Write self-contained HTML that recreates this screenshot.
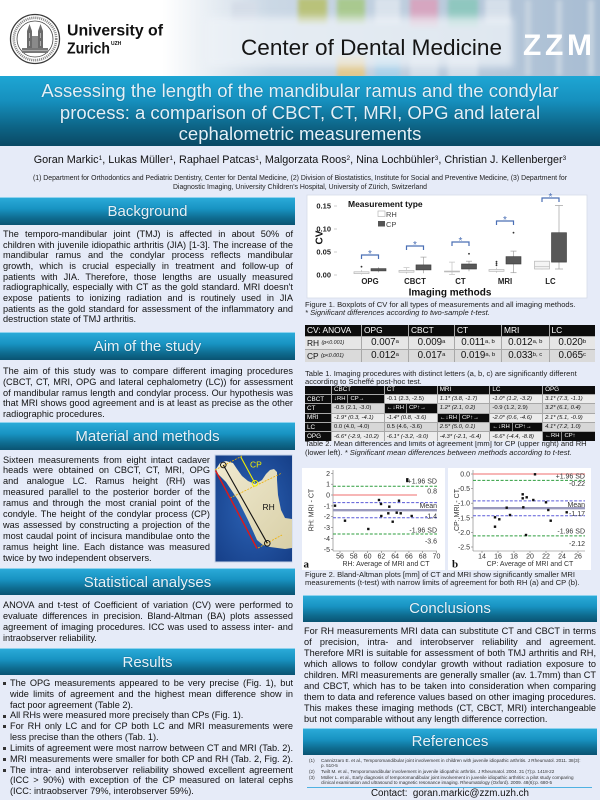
<!DOCTYPE html>
<html><head><meta charset="utf-8"><title>poster</title>
<style>
*{margin:0;padding:0;box-sizing:border-box}
html,body{width:600px;height:800px}
body{overflow:hidden;background:#e6ebf8;font-family:"Liberation Sans",Arial,sans-serif;color:#111;position:relative}
.a{position:absolute}
.hd{position:absolute;background:linear-gradient(#2aaad8,#1893c2 40%,#0e6b8f 75%,#0a5372);color:#e6f3fa;font-size:15px;text-align:center;border-top:1px solid #8fd2ee;text-shadow:0 0 1px rgba(0,40,60,.6)}
.tx{position:absolute;font-size:9.2px}
.tx div{text-align:justify;text-align-last:justify;word-spacing:-0.7px;white-space:normal}
.tx div.l{text-align:left;text-align-last:left;word-spacing:0}
.cap{position:absolute;font-size:7.6px;color:#222;white-space:nowrap;line-height:8.7px}
.g1{position:absolute;display:grid;gap:1px;background:#a8a8a8}
.g1 div{display:flex;align-items:center;white-space:nowrap;overflow:hidden;padding-left:2px}
.k{background:#0c0c0c;color:#fff}
.c1{background:#e6e6e6;justify-content:center;padding-left:0!important}
.c2{background:#dadada;justify-content:center;padding-left:0!important}
.r1{background:#ececec}
.r2{background:#d7d7d7}
.dg{background:#0c0c0c;color:#fff;padding-left:0!important}
.dg span{display:inline-block;height:100%;line-height:8.4px;padding:0 2px}
.dg span+span{border-left:1px solid #8a8a8a}
sup{font-size:60%;vertical-align:top;position:relative;top:-1px}
.bul{position:absolute;left:3px;width:3px;height:3px;background:#333}
</style></head>
<body>

<!-- HEADER IMAGE -->
<svg class="a" style="left:0;top:0" width="600" height="76" font-family="Liberation Sans, Arial, sans-serif">
<defs>
<linearGradient id="hg" x1="0" x2="1" y1="0" y2="0">
<stop offset="0" stop-color="#fff"/><stop offset="0.27" stop-color="#fff"/><stop offset="0.45" stop-color="#cbd8e5"/><stop offset="0.85" stop-color="#b3c5d8"/><stop offset="1" stop-color="#a7bcd2"/></linearGradient>
<filter id="bl" x="-20%" y="-20%" width="140%" height="140%"><feGaussianBlur stdDeviation="2.2"/></filter>
<filter id="bl2" x="-20%" y="-50%" width="140%" height="200%"><feGaussianBlur stdDeviation="4"/></filter>
</defs>
<rect width="600" height="76" fill="url(#hg)"/>
<g filter="url(#bl)">
<rect x="232" y="2" width="24" height="20" fill="#d5dde8"/>
<rect x="298" y="-2" width="29" height="26" fill="#b9c27a"/>
<rect x="337" y="-2" width="28" height="26" fill="#a9c98f"/>
<rect x="375" y="-2" width="25" height="26" fill="#d9e2ec"/>
<rect x="410" y="-2" width="28" height="29" fill="#d6a6c0"/>
<rect x="448" y="-2" width="30" height="29" fill="#8fc7bf"/>
<rect x="485" y="-2" width="25" height="26" fill="#d5dfea"/>
<rect x="337" y="56" width="28" height="22" fill="#e2c88c"/>
<rect x="375" y="56" width="25" height="22" fill="#a9d0e8"/>
<rect x="410" y="56" width="28" height="22" fill="#d3dde8"/>
<rect x="448" y="56" width="30" height="22" fill="#d3dde8"/>
<rect x="525" y="0" width="6" height="76" fill="#c6d3e0"/>
<rect x="556" y="0" width="6" height="76" fill="#c6d3e0"/>
<rect x="588" y="0" width="6" height="76" fill="#c6d3e0"/>
</g>
<rect x="205" y="17" width="308" height="50" fill="#eef3f8" opacity="0.75" filter="url(#bl2)"/>
<!-- logo -->
<circle cx="35" cy="39" r="24.5" fill="#fff" stroke="#3a3a3a" stroke-width="1.3"/>
<circle cx="35" cy="39" r="21.2" fill="none" stroke="#888" stroke-width="2.6" stroke-dasharray="1.1 0.9"/>
<circle cx="35" cy="39" r="18" fill="#fff" stroke="#444" stroke-width="0.8"/>
<path d="M27 50 V31 L29.5 24 L32 31 V50 Z" fill="#6b6b6b"/>
<path d="M38 50 V31 L40.5 24 L43 31 V50 Z" fill="#6b6b6b"/>
<rect x="32" y="36" width="6" height="14" fill="#8a8a8a"/>
<rect x="22" y="48" width="26" height="5" fill="#777"/>
<g stroke="#ddd" stroke-width="0.6"><line x1="29.5" y1="33" x2="29.5" y2="38"/><line x1="40.5" y1="33" x2="40.5" y2="38"/><line x1="29.5" y1="41" x2="29.5" y2="46"/><line x1="40.5" y1="41" x2="40.5" y2="46"/><line x1="22" y1="50.5" x2="48" y2="50.5"/></g>
<text x="67" y="35.5" font-size="16" font-weight="bold" fill="#111" textLength="96" lengthAdjust="spacingAndGlyphs">University of</text>
<text x="67" y="53.5" font-size="16" font-weight="bold" fill="#111" textLength="43" lengthAdjust="spacingAndGlyphs">Zurich</text>
<text x="111" y="45" font-size="5" font-weight="bold" fill="#111">UZH</text>
<text x="241" y="55" font-size="22" fill="#151515" textLength="261" lengthAdjust="spacingAndGlyphs">Center of Dental Medicine</text>
<text x="523" y="55" font-size="30" font-weight="bold" fill="#fff" textLength="69" lengthAdjust="spacing">ZZM</text>
</svg>

<!-- TITLE BAND -->
<div class="a" style="left:0;top:76px;width:600px;height:70px;background:linear-gradient(#1ea6d4,#1690be 35%,#0d6587 72%,#0a4964);color:#e3f1f9;font-size:18.5px;line-height:21.5px;text-align:center;padding-top:4px;white-space:nowrap;text-shadow:0 0 1px rgba(0,30,50,.5)">
Assessing the length of the mandibular ramus and the condylar<br>process: a comparison of CBCT, CT, MRI, OPG and lateral<br>cephalometric measurements</div>

<div class="a" style="left:0;top:153px;width:600px;text-align:center;font-size:10.8px;line-height:14px;white-space:nowrap;color:#111">Goran Markic<sup>1</sup>, Lukas Müller<sup>1</sup>, Raphael Patcas<sup>1</sup>, Malgorzata Roos<sup>2</sup>, Nina Lochbühler<sup>3</sup>, Christian J. Kellenberger<sup>3</sup></div>
<div class="a" style="left:0;top:173.5px;width:600px;text-align:center;font-size:6.9px;line-height:9px;white-space:nowrap;color:#222">(1) Department for Orthodontics and Pediatric Dentistry, Center for Dental Medicine, (2) Division of Biostatistics, Institute for Social and Preventive Medicine, (3) Department for<br>Diagnostic Imaging, University Children's Hospital, University of Zürich, Switzerland</div>

<!-- LEFT COLUMN HEADERS -->
<div class="hd" style="left:0;top:197px;width:295px;height:28px;line-height:27px">Background</div>
<div class="hd" style="left:0;top:332px;width:295px;height:28px;line-height:27px">Aim of the study</div>
<div class="hd" style="left:0;top:422px;width:295px;height:28px;line-height:27px">Material and methods</div>
<div class="hd" style="left:0;top:568px;width:295px;height:27px;line-height:27px">Statistical analyses</div>
<div class="hd" style="left:0;top:648px;width:295px;height:27px;line-height:27px">Results</div>

<!-- RIGHT HEADERS -->
<div class="hd" style="left:303px;top:595px;width:294px;height:27px;line-height:26px">Conclusions</div>
<div class="hd" style="left:303px;top:728px;width:294px;height:27px;line-height:26px">References</div>

<!-- BACKGROUND TEXT -->
<div class="tx" style="left:3px;top:229px;width:290px;line-height:10.67px">
<div>The temporo-mandibular joint (TMJ) is affected in about 50% of</div>
<div>children with juvenile idiopathic arthritis (JIA) [1-3]. The increase of the</div>
<div>mandibular ramus and the condylar process reflects mandibular</div>
<div>growth, which is crucial especially in treatment and follow-up of</div>
<div>patients with JIA. Therefore, those lengths are usually measured</div>
<div>radiographically, especially with CT as the gold standard. MRI doesn't</div>
<div>expose patients to ionizing radiation and is routinely used in JIA</div>
<div>patients as the gold standard for assessment of the inflammatory and</div>
<div class="l">destruction state of TMJ arthritis.</div>
</div>

<!-- AIM -->
<div class="tx" style="left:3px;top:366.4px;width:290px;line-height:10.65px">
<div>The aim of this study was to compare different imaging procedures</div>
<div>(CBCT, CT, MRI, OPG and lateral cephalometry (LC)) for assessment</div>
<div>of mandibular ramus length and condylar process. Our hypothesis was</div>
<div>that MRI shows good agreement and is at least as precise as the other</div>
<div class="l">radiographic procedures.</div>
</div>

<!-- M&M -->
<div class="tx" style="left:3px;top:454.5px;width:207px;line-height:10.92px">
<div>Sixteen measurements from eight intact cadaver</div>
<div>heads were obtained on CBCT, CT, MRI, OPG</div>
<div>and analogue LC. Ramus height (RH) was</div>
<div>measured parallel to the posterior border of the</div>
<div>ramus and through the most cranial point of the</div>
<div>condyle. The height of the condylar process (CP)</div>
<div>was assessed by constructing a projection of the</div>
<div>most caudal point of incisura mandibulae onto the</div>
<div>ramus height line. Each distance was measured</div>
<div class="l">twice by two independent observers.</div>
</div>

<!-- STAT -->
<div class="tx" style="left:3px;top:599.5px;width:290px;line-height:11.1px">
<div>ANOVA and t-test of Coefficient of variation (CV) were performed to</div>
<div>evaluate differences in precision. Bland-Altman (BA) plots assessed</div>
<div>agreement of imaging procedures. ICC was used to assess inter- and</div>
<div class="l">intraobserver reliability.</div>
</div>

<!-- RESULTS -->
<div class="bul" style="top:682px"></div>
<div class="bul" style="top:714.5px"></div>
<div class="bul" style="top:725.3px"></div>
<div class="bul" style="top:747px"></div>
<div class="bul" style="top:757.8px"></div>
<div class="bul" style="top:768.6px"></div>
<div class="tx" style="left:10px;top:677.9px;width:283px;line-height:10.83px">
<div>The OPG measurements appeared to be very precise (Fig. 1), but</div>
<div>wide limits of agreement and the highest mean difference show in</div>
<div class="l">fact poor agreement (Table 2).</div>
<div class="l">All RHs were measured more precisely than CPs (Fig. 1).</div>
<div>For RH only LC and for CP both LC and MRI measurements were</div>
<div class="l">less precise than the others (Tab. 1).</div>
<div>Limits of agreement were most narrow between CT and MRI (Tab. 2).</div>
<div>MRI measurements were smaller for both CP and RH (Tab. 2, Fig. 2).</div>
<div>The intra- and interobserver reliability showed excellent agreement</div>
<div>(ICC &gt; 90%) with exception of the CP measured on lateral cephs</div>
<div class="l">(ICC: intraobserver 79%, interobserver 59%).</div>
</div>

<!-- CONCLUSIONS -->
<div class="tx" style="left:304px;top:626.2px;width:292px;line-height:10.95px">
<div>For RH measurements MRI data can substitute CT and CBCT in terms</div>
<div>of precision, intra- and interobserver reliability and agreement.</div>
<div>Therefore MRI is suitable for assessment of both TMJ arthritis and RH,</div>
<div>which allows to follow condylar growth without radiation exposure to</div>
<div>children. MRI measurements are generally smaller (av. 1.7mm) than CT</div>
<div>and CBCT, which has to be taken into consideration when comparing</div>
<div>them to data and reference values based on other imaging procedures.</div>
<div>This makes these imaging methods (CT, CBCT, MRI) interchangeable</div>
<div class="l">but not comparable without any length difference correction.</div>
</div>

<!-- REFERENCES -->
<div class="a" style="left:309px;top:757.5px;font-size:4.6px;line-height:5px;color:#333">(1)</div>
<div class="a" style="left:321px;top:757.5px;width:270px;font-size:4.6px;line-height:5px;color:#333">Cannizzaro E. et al., Temporomandibular joint involvement in children with juvenile idiopathic arthritis. J Rheumatol. 2011. 38(3):<br>p. 510-5</div>
<div class="a" style="left:309px;top:769px;font-size:4.6px;line-height:5px;color:#333">(2)</div>
<div class="a" style="left:321px;top:769px;width:270px;font-size:4.6px;line-height:5px;color:#333">Twilt M. et al., Temporomandibular involvement in juvenile idiopathic arthritis. J Rheumatol. 2004. 31 (7):p. 1418-22</div>
<div class="a" style="left:309px;top:774.8px;font-size:4.6px;line-height:5px;color:#333">(3)</div>
<div class="a" style="left:321px;top:774.8px;width:270px;font-size:4.6px;line-height:5px;color:#333">Müller L. et al., Early diagnosis of temporomandibular joint involvement in juvenile idiopathic arthritis: a pilot study comparing<br>clinical examination and ultrasound to magnetic resonance imaging. Rheumatology (Oxford). 2009. 48(6):p. 680-5</div>
<div class="a" style="left:307px;top:787px;width:285px;height:1px;background:#4fb2e2"></div>
<div class="a" style="left:303px;top:788px;width:294px;text-align:center;font-size:9.8px;line-height:12px;white-space:nowrap;color:#111">Contact:&nbsp; goran.markic@zzm.uzh.ch</div>

<!-- CAPTIONS -->
<div class="cap" style="left:305px;top:300.6px">Figure 1. Boxplots of CV for all types of measurements and all imaging methods.<br><i>* Significant differences according to two-sample t-test.</i></div>
<div class="cap" style="left:305px;top:369.5px;line-height:8.3px">Table 1. Imaging procedures with distinct letters (a, b, c) are significantly different<br>according to Scheffé post-hoc test.</div>
<div class="cap" style="left:305px;top:439.6px;line-height:8.9px">Table 2. Mean differences and limits of agreement [mm] for CP (upper right) and RH<br>(lower left). <i>* Significant mean differences between methods according to t-test.</i></div>
<div class="cap" style="left:305px;top:570.7px;line-height:8.6px">Figure 2. Bland-Altman plots [mm] of CT and MRI show significantly smaller MRI<br>measurements (t-test) with narrow limits of agreement for both RH (a) and CP (b).</div>

<!-- TABLE 1 -->
<div class="g1" style="left:305px;top:325px;grid-template-columns:56px 46px 45px 46px 46.5px 45.5px;grid-template-rows:10.5px 12px 12px;font-size:8.4px">
<div class="k">CV: ANOVA</div><div class="k">OPG</div><div class="k">CBCT</div><div class="k">CT</div><div class="k">MRI</div><div class="k">LC</div>
<div class="c1" style="justify-content:flex-start;padding-left:2px!important">RH&nbsp;<i style="font-size:5.3px">(p&lt;0.001)</i></div>
<div class="c1" style="font-size:9.8px">0.007<sup>a</sup></div><div class="c1" style="font-size:9.8px">0.009<sup>a</sup></div><div class="c1" style="font-size:9.8px">0.011<sup>a, b</sup></div><div class="c1" style="font-size:9.8px">0.012<sup>a, b</sup></div><div class="c1" style="font-size:9.8px">0.020<sup>b</sup></div>
<div class="c2" style="justify-content:flex-start;padding-left:2px!important">CP&nbsp;<i style="font-size:5.3px">(p&lt;0.001)</i></div>
<div class="c2" style="font-size:9.8px">0.012<sup>a</sup></div><div class="c2" style="font-size:9.8px">0.017<sup>a</sup></div><div class="c2" style="font-size:9.8px">0.019<sup>a, b</sup></div><div class="c2" style="font-size:9.8px">0.033<sup>b, c</sup></div><div class="c2" style="font-size:9.8px">0.065<sup>c</sup></div>
</div>

<!-- TABLE 2 -->
<div class="g1" style="left:305px;top:385.5px;grid-template-columns:26px 51.7px 52px 51.7px 51.7px 51.9px;grid-template-rows:repeat(6,8.4px);font-size:5.9px">
<div class="k"></div><div class="k" style="font-size:6.3px">CBCT</div><div class="k" style="font-size:6.3px">CT</div><div class="k" style="font-size:6.3px">MRI</div><div class="k" style="font-size:6.3px">LC</div><div class="k" style="font-size:6.3px">OPG</div>
<div class="k" style="font-size:6.3px">CBCT</div><div class="dg"><span>↓RH</span><span>CP→</span></div><div class="r1">-0.1 (2.3, -2.5)</div><div class="r1"><i>1.1* (3.8, -1.7)</i></div><div class="r1"><i>-1.0* (1.2, -3.2)</i></div><div class="r1"><i>3.1* (7.3, -1.1)</i></div>
<div class="k" style="font-size:6.3px">CT</div><div class="r2">-0.5 (2.1, -3.0)</div><div class="dg"><span>←↓RH</span><span>CP↑→</span></div><div class="r2"><i>1.2* (2.1, 0.2)</i></div><div class="r2">-0.9 (1.2, 2.9)</div><div class="r2"><i>3.2* (6.1, 0.4)</i></div>
<div class="k" style="font-size:6.3px">MRI</div><div class="r1"><i>-1.9* (0.3, -4.1)</i></div><div class="r1"><i>-1.4* (0.8, -3.6)</i></div><div class="dg"><span>←↓RH</span><span>CP↑→</span></div><div class="r1"><i>-2.0* (0.6, -4.6)</i></div><div class="r1"><i>2.1* (5.1, -0.9)</i></div>
<div class="k" style="font-size:6.3px">LC</div><div class="r2">0.0 (4.0, -4.0)</div><div class="r2">0.5 (4.6, -3.6)</div><div class="r2"><i>2.5* (5.0, 0.1)</i></div><div class="dg"><span>←↓RH</span><span>CP↑→</span></div><div class="r2"><i>4.1* (7.2, 1.0)</i></div>
<div class="k" style="font-size:6.3px">OPG</div><div class="r1"><i>-6.6* (-2.9, -10.2)</i></div><div class="r1"><i>-6.1* (-3.2, -9.0)</i></div><div class="r1"><i>-4.3* (-2.1, -6.4)</i></div><div class="r1"><i>-6.6* (-4.4, -8.8)</i></div><div class="dg"><span>←RH</span><span>CP↑</span></div>
</div>

<!-- GRAPHICS -->
<svg class="a" style="left:0;top:0;pointer-events:none" width="600" height="800" font-family="Liberation Sans, Arial, sans-serif">
<defs>
<radialGradient id="bg1" cx="0.5" cy="0.5" r="0.7"><stop offset="0" stop-color="#2c63b6"/><stop offset="1" stop-color="#163f88"/></radialGradient>
<linearGradient id="bone" x1="0" y1="0" x2="1" y2="1"><stop offset="0" stop-color="#f0ead0"/><stop offset="1" stop-color="#d9d0a8"/></linearGradient>
</defs>

<!-- M&M image -->
<rect x="214.5" y="454.5" width="78" height="108" fill="#c5d3e8"/>
<rect x="215.5" y="455.5" width="76.5" height="106" fill="url(#bg1)"/>
<path d="M216 469 L220 463 L226 461 L233 463 L237 469 L242 476 L248 481 L255 484 L262 480 L266 474 L270 470 L274 469 L277 472 L277 480 L278 495 L281 510 L285 518 L292 519 L292 548 L285 549 L270 547 L263 545 L257 540 L248 520 L238 500 L226 482 L218 474 Z" fill="url(#bone)"/>
<g stroke="#f0b000" stroke-width="0.8" stroke-dasharray="2 1.2" fill="none">
<line x1="215" y1="470" x2="242" y2="456"/>
<line x1="230" y1="498" x2="282" y2="473"/>
<line x1="258" y1="548" x2="282" y2="535"/>
</g>
<line x1="215.5" y1="470.5" x2="257" y2="548.5" stroke="#e01818" stroke-width="1.4"/>
<line x1="223.3" y1="465" x2="267.3" y2="543.3" stroke="#111" stroke-width="1.1"/>
<circle cx="223.3" cy="465" r="2.8" fill="none" stroke="#111" stroke-width="0.9"/>
<circle cx="267.3" cy="543.3" r="2.8" fill="none" stroke="#111" stroke-width="0.9"/>
<line x1="240.7" y1="456.7" x2="255" y2="483.3" stroke="#f2f000" stroke-width="1.1"/>
<circle cx="255" cy="483.3" r="2.8" fill="none" stroke="#f2f000" stroke-width="1"/>
<text x="250" y="467.5" font-size="8.5" fill="#f2f000">CP</text>
<text x="262.5" y="510" font-size="8.5" fill="#111">RH</text>

<!-- FIGURE 1 -->
<rect x="307" y="195" width="280" height="103" fill="#fff" stroke="#d6dce8" stroke-width="0.8"/>
<g font-size="7.5" font-weight="bold" fill="#222" text-anchor="end">
<text x="331" y="208.7">0.15</text><text x="331" y="231.7">0.10</text><text x="331" y="254.7">0.05</text><text x="331" y="277.7">0.00</text></g>
<g stroke="#aaa" stroke-width="0.6"><line x1="334" y1="206" x2="337" y2="206"/><line x1="334" y1="229" x2="337" y2="229"/><line x1="334" y1="252" x2="337" y2="252"/><line x1="334" y1="275" x2="337" y2="275"/></g>
<text transform="translate(322.5,237.5) rotate(-90)" font-size="10" font-weight="bold" text-anchor="middle" fill="#111">CV</text>
<g font-size="7.8" font-weight="bold" text-anchor="middle" fill="#222">
<text x="370" y="283.8">OPG</text><text x="415" y="283.8">CBCT</text><text x="460.5" y="283.8">CT</text><text x="505" y="283.8">MRI</text><text x="550.5" y="283.8">LC</text></g>
<text x="450" y="295.3" font-size="10" font-weight="bold" text-anchor="middle" fill="#111">Imaging methods</text>
<text x="348" y="207" font-size="8.5" font-weight="bold" fill="#111">Measurement type</text>
<rect x="378" y="211" width="7" height="5.5" fill="#fff" stroke="#aaa" stroke-width="0.6"/>
<text x="386" y="217" font-size="7.5" fill="#444">RH</text>
<rect x="378" y="221" width="7" height="5.5" fill="#555"/>
<text x="386" y="227" font-size="7.5" fill="#444">CP</text>

<!-- RH boxes -->
<g stroke="#c0c0c0" stroke-width="0.7" fill="none">
<line x1="361.5" y1="269.9" x2="361.5" y2="274.5"/>
<line x1="406.5" y1="267.6" x2="406.5" y2="273.6"/><line x1="403.5" y1="267.6" x2="409.5" y2="267.6"/>
<line x1="452" y1="262.1" x2="452" y2="274.5"/><line x1="449" y1="262.1" x2="455" y2="262.1"/><line x1="449" y1="274.5" x2="455" y2="274.5"/>
<line x1="496.5" y1="267.6" x2="496.5" y2="272.7"/>
<line x1="542" y1="261.2" x2="542" y2="269.5"/>
</g>
<g fill="#f4f4f4" stroke="#b5b5b5" stroke-width="0.7">
<rect x="354" y="271.8" width="15" height="1.8"/>
<rect x="399" y="270.4" width="15" height="1.8"/>
<rect x="444.5" y="271.1" width="15" height="0.8"/>
<rect x="489" y="269.5" width="15" height="1.8"/>
<rect x="534.5" y="261.2" width="15" height="7.8"/>
</g>
<line x1="534.5" y1="266.7" x2="549.5" y2="266.7" stroke="#bbb" stroke-width="0.7"/>
<g fill="#333"><circle cx="361.5" cy="266.7" r="0.9"/><circle cx="496.5" cy="265.3" r="0.9"/><circle cx="496.5" cy="263.5" r="0.9"/><circle cx="496.5" cy="261.7" r="0.9"/></g>
<!-- CP boxes -->
<g stroke="#a0a0a0" stroke-width="0.7" fill="none">
<line x1="378.5" y1="267.2" x2="378.5" y2="272.2"/>
<line x1="423.5" y1="257.1" x2="423.5" y2="273.2"/><line x1="420.5" y1="257.1" x2="426.5" y2="257.1"/>
<line x1="469" y1="261.2" x2="469" y2="271.3"/><line x1="466" y1="261.2" x2="472" y2="261.2"/>
<line x1="513.5" y1="251.1" x2="513.5" y2="272.7"/><line x1="510.5" y1="251.1" x2="516.5" y2="251.1"/><line x1="510.5" y1="272.7" x2="516.5" y2="272.7"/>
<line x1="559" y1="205.5" x2="559" y2="269"/><line x1="555" y1="205.5" x2="563" y2="205.5"/><line x1="555" y1="269" x2="563" y2="269"/>
</g>
<g fill="#585858" stroke="#3a3a3a" stroke-width="0.6">
<rect x="371" y="268.6" width="15" height="2.3"/>
<rect x="416" y="264.9" width="15" height="5"/>
<rect x="461.5" y="264" width="15" height="5"/>
<rect x="506" y="256.6" width="15" height="7.4"/>
<rect x="551.5" y="232.7" width="15" height="29.4"/>
</g>
<g fill="#333"><circle cx="469" cy="253.8" r="0.9"/><circle cx="513.5" cy="232.7" r="0.9"/></g>
<!-- brackets -->
<g stroke="#4a6fb5" stroke-width="1.2" fill="none">
<polyline points="361.5,259 361.5,255 378.5,255 378.5,259"/>
<polyline points="406.5,250 406.5,246 423.5,246 423.5,250"/>
<polyline points="452,246 452,242 469,242 469,246"/>
<polyline points="496.5,225 496.5,221 513.5,221 513.5,225"/>
<polyline points="542,202 542,198 559,198 559,202"/>
</g>
<g fill="#4a6fb5" font-size="10" text-anchor="middle">
<text x="370" y="257">*</text><text x="415" y="248">*</text><text x="460.5" y="244">*</text><text x="505" y="223">*</text><text x="550.5" y="200">*</text></g>

<!-- FIGURE 2a -->
<rect x="302" y="468" width="143" height="102" fill="#fff"/>
<g stroke="#777" stroke-width="0.6">
<line x1="333" y1="470" x2="333" y2="551"/><line x1="333" y1="551" x2="437" y2="551"/>
<line x1="331" y1="473.3" x2="333" y2="473.3"/><line x1="331" y1="484.2" x2="333" y2="484.2"/><line x1="331" y1="495" x2="333" y2="495"/><line x1="331" y1="505.9" x2="333" y2="505.9"/><line x1="331" y1="516.7" x2="333" y2="516.7"/><line x1="331" y1="527.6" x2="333" y2="527.6"/><line x1="331" y1="538.4" x2="333" y2="538.4"/><line x1="331" y1="549.3" x2="333" y2="549.3"/>
<line x1="340" y1="551" x2="340" y2="553"/><line x1="353.8" y1="551" x2="353.8" y2="553"/><line x1="367.6" y1="551" x2="367.6" y2="553"/><line x1="381.4" y1="551" x2="381.4" y2="553"/><line x1="395.1" y1="551" x2="395.1" y2="553"/><line x1="408.9" y1="551" x2="408.9" y2="553"/><line x1="422.7" y1="551" x2="422.7" y2="553"/><line x1="436.5" y1="551" x2="436.5" y2="553"/>
</g>
<g font-size="7" fill="#333" text-anchor="end">
<text x="330" y="475.8">2</text><text x="330" y="486.7">1</text><text x="330" y="497.5">0</text><text x="330" y="508.4">-1</text><text x="330" y="519.2">-2</text><text x="330" y="530.1">-3</text><text x="330" y="540.9">-4</text><text x="330" y="551.8">-5</text></g>
<g font-size="7" fill="#333" text-anchor="middle">
<text x="340" y="558.5">56</text><text x="353.8" y="558.5">58</text><text x="367.6" y="558.5">60</text><text x="381.4" y="558.5">62</text><text x="395.1" y="558.5">64</text><text x="408.9" y="558.5">66</text><text x="422.7" y="558.5">68</text><text x="436.5" y="558.5">70</text></g>
<text transform="translate(313.5,510) rotate(-90)" font-size="7" fill="#333" text-anchor="middle">RH: MRI - CT</text>
<text x="386" y="566" font-size="7" fill="#333" text-anchor="middle">RH: Average of MRI and CT</text>
<text x="303.5" y="567.5" font-size="11" font-weight="bold" font-family="Liberation Serif, serif" fill="#111">a</text>
<line x1="333" y1="495" x2="417" y2="495" stroke="#f28b8b" stroke-width="1.2"/>
<g stroke="#2e9e3e" stroke-width="1" stroke-dasharray="3 1.6"><line x1="333" y1="486.3" x2="437" y2="486.3"/><line x1="333" y1="534" x2="437" y2="534"/></g>
<line x1="333" y1="510.2" x2="437" y2="510.2" stroke="#9a9abd" stroke-width="2.4"/>
<g stroke="#5a5ad8" stroke-width="1" stroke-dasharray="3 1.6"><line x1="333" y1="502.6" x2="437" y2="502.6"/><line x1="333" y1="517.8" x2="437" y2="517.8"/></g>
<g font-size="7" fill="#333" text-anchor="end">
<text x="437" y="483.5">+1.96 SD</text><text x="437" y="493.7">0.8</text><text x="437" y="508.2">Mean</text><text x="437" y="518.7">-1.4</text><text x="437" y="532.4">-1.96 SD</text><text x="437" y="543.6">-3.6</text></g>
<g fill="#111">
<rect x="333.8" y="504.5" width="2.4" height="2.4"/><rect x="343.8" y="519.5" width="2.4" height="2.4"/><rect x="367.1" y="527.8" width="2.4" height="2.4"/><rect x="377.8" y="498.8" width="2.4" height="2.4"/><rect x="379.8" y="502.8" width="2.4" height="2.4"/><rect x="380.1" y="514.8" width="2.4" height="2.4"/><rect x="388.1" y="505.5" width="2.4" height="2.4"/><rect x="387.1" y="512.1" width="2.4" height="2.4"/><rect x="391.5" y="520.5" width="2.4" height="2.4"/><rect x="395.5" y="511.5" width="2.4" height="2.4"/><rect x="397.8" y="499.5" width="2.4" height="2.4"/><rect x="399.5" y="512.1" width="2.4" height="2.4"/><rect x="406.1" y="478.1" width="2.4" height="2.4"/><rect x="406.1" y="479.8" width="2.4" height="2.4"/><rect x="410.5" y="514.8" width="2.4" height="2.4"/>
</g>

<!-- FIGURE 2b -->
<rect x="448" y="468" width="143" height="102" fill="#fff"/>
<g stroke="#777" stroke-width="0.6">
<line x1="473" y1="470" x2="473" y2="551"/><line x1="473" y1="551" x2="585" y2="551"/>
<line x1="471" y1="474" x2="473" y2="474"/><line x1="471" y1="488.6" x2="473" y2="488.6"/><line x1="471" y1="503.2" x2="473" y2="503.2"/><line x1="471" y1="517.8" x2="473" y2="517.8"/><line x1="471" y1="532.4" x2="473" y2="532.4"/><line x1="471" y1="547" x2="473" y2="547"/>
<line x1="482" y1="551" x2="482" y2="553"/><line x1="498" y1="551" x2="498" y2="553"/><line x1="514" y1="551" x2="514" y2="553"/><line x1="530" y1="551" x2="530" y2="553"/><line x1="546" y1="551" x2="546" y2="553"/><line x1="562" y1="551" x2="562" y2="553"/><line x1="578" y1="551" x2="578" y2="553"/>
</g>
<g font-size="7" fill="#333" text-anchor="end">
<text x="470" y="476.5">0.0</text><text x="470" y="491.1">-0.5</text><text x="470" y="505.7">-1.0</text><text x="470" y="520.3">-1.5</text><text x="470" y="534.9">-2.0</text><text x="470" y="549.5">-2.5</text></g>
<g font-size="7" fill="#333" text-anchor="middle">
<text x="482" y="558.5">14</text><text x="498" y="558.5">16</text><text x="514" y="558.5">18</text><text x="530" y="558.5">20</text><text x="546" y="558.5">22</text><text x="562" y="558.5">24</text><text x="578" y="558.5">26</text></g>
<text transform="translate(459,510) rotate(-90)" font-size="7" fill="#333" text-anchor="middle">CP: MRI - CT</text>
<text x="530" y="566" font-size="7" fill="#333" text-anchor="middle">CP: Average of MRI and CT</text>
<text x="452" y="567.5" font-size="11" font-weight="bold" font-family="Liberation Serif, serif" fill="#111">b</text>
<line x1="473" y1="474" x2="585" y2="474" stroke="#f28b8b" stroke-width="1.2"/>
<g stroke="#2e9e3e" stroke-width="1" stroke-dasharray="3 1.6"><line x1="473" y1="480.4" x2="585" y2="480.4"/><line x1="473" y1="535.9" x2="585" y2="535.9"/></g>
<line x1="473" y1="508.2" x2="585" y2="508.2" stroke="#9a9abd" stroke-width="2.4"/>
<g stroke="#5a5ad8" stroke-width="1" stroke-dasharray="3 1.6"><line x1="473" y1="500.9" x2="585" y2="500.9"/><line x1="473" y1="515.8" x2="585" y2="515.8"/></g>
<g font-size="7" fill="#333" text-anchor="end">
<text x="585" y="478.3">+1.96 SD</text><text x="585" y="486">-0.22</text><text x="585" y="506.8">Mean</text><text x="585" y="515.8">-1.17</text><text x="585" y="533.5">-1.96 SD</text><text x="585" y="545.8">-2.12</text></g>
<g fill="#111">
<rect x="533.8" y="473.1" width="2.4" height="2.4"/><rect x="521.5" y="493.1" width="2.4" height="2.4"/><rect x="521.5" y="497.1" width="2.4" height="2.4"/><rect x="525.5" y="496.1" width="2.4" height="2.4"/><rect x="532.1" y="498.8" width="2.4" height="2.4"/><rect x="544.8" y="501.1" width="2.4" height="2.4"/><rect x="522.1" y="506.1" width="2.4" height="2.4"/><rect x="505.5" y="506.5" width="2.4" height="2.4"/><rect x="547.1" y="508.8" width="2.4" height="2.4"/><rect x="508.8" y="513.8" width="2.4" height="2.4"/><rect x="493.8" y="516.1" width="2.4" height="2.4"/><rect x="498.1" y="518.1" width="2.4" height="2.4"/><rect x="549.5" y="519.5" width="2.4" height="2.4"/><rect x="493.8" y="525.5" width="2.4" height="2.4"/><rect x="524.8" y="533.8" width="2.4" height="2.4"/><rect x="565.5" y="511.1" width="2.4" height="2.4"/>
</g>
</svg>

</body></html>
